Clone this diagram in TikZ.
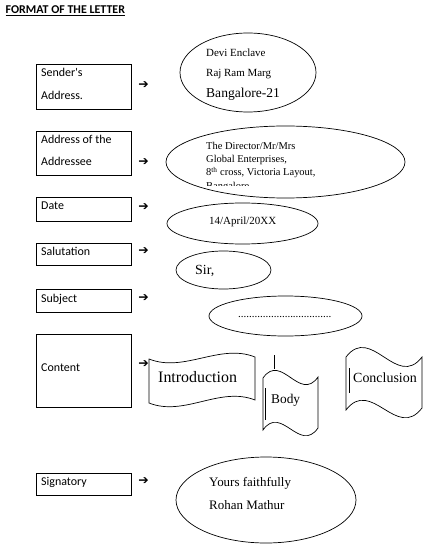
\documentclass[tikz,border=0pt]{standalone}
\usepackage{fontspec}
\setmainfont{Liberation Serif}
\newfontfamily\calib{Carlito}
\newfontfamily\djv{DejaVu Sans}
\usetikzlibrary{shapes.geometric}
\begin{document}
\begin{tikzpicture}[x=1bp,y=-1bp,
  lbox/.style={draw, line width=1bp, inner sep=0pt, outer sep=0pt, minimum width=95bp},
  ltext/.style={anchor=base west, inner sep=0pt, font=\calib\fontsize{12}{14}\selectfont},
  oval/.style={draw, ellipse, line width=0.7bp, inner sep=0pt},
  etext/.style={anchor=base west, inner sep=0pt},
  arrowglyph/.style={inner sep=0pt, font=\djv\bfseries\fontsize{12.5}{14}\selectfont},
  wave/.style={draw, line width=0.7bp},
  bar/.style={draw, line width=1bp}]
\useasboundingbox (0,0) rectangle (430,544);

% title
\node[anchor=base west, inner sep=0pt, font=\calib\bfseries\fontsize{12}{14}\selectfont] (title) at (5.5,13.5) {\underline{FORMAT OF THE LETTER}};

% left boxes
\node[lbox, minimum height=45bp] (sender) at (83.5,87.5) {};
\node[lbox, minimum height=44bp] (addr) at (83.5,154) {};
\node[lbox, minimum height=23bp] (date) at (83.5,209.5) {};
\node[lbox, minimum height=22bp] (salut) at (83.5,254) {};
\node[lbox, minimum height=23bp] (subj) at (83.5,300.5) {};
\node[lbox, minimum height=73bp] (content) at (83.5,370.5) {};
\node[lbox, minimum height=22bp] (sign) at (83.5,484) {};

\node[ltext] (t1) at (41,77) {Sender's};
\node[ltext] (t2) at (41,100) {Address.};
\node[ltext] (t3) at (41,144) {Address of the};
\node[ltext] (t4) at (41,166) {Addressee};
\node[ltext] (t5) at (41,210) {Date};
\node[ltext] (t6) at (41,255) {Salutation};
\node[ltext] (t7) at (41,302) {Subject};
\node[ltext] (t8) at (41,371) {Content};
\node[ltext] (t9) at (41,485) {Signatory};

% arrows
\node[arrowglyph] (a1) at (143.5,85.5) {➔};
\node[arrowglyph] (a2) at (143.5,162.5) {➔};
\node[arrowglyph] (a3) at (143.5,207.5) {➔};
\node[arrowglyph] (a4) at (143.5,251.5) {➔};
\node[arrowglyph] (a5) at (143.5,298.5) {➔};
\node[arrowglyph] (a6) at (143.5,364.5) {➔};
\node[arrowglyph] (a7) at (143.5,481.5) {➔};

% ellipses
\node[oval, minimum width=136bp, minimum height=79bp] (e1) at (248,72.5) {};
\node[etext, font=\fontsize{11}{13}\selectfont] (e1a) at (206,57) {Devi Enclave};
\node[etext, font=\fontsize{11}{13}\selectfont] (e1b) at (206,77) {Raj Ram Marg};
\node[etext, font=\fontsize{13.6}{15}\selectfont] (e1c) at (206,98) {Bangalore-21};

\node[oval, minimum width=239bp, minimum height=72bp] (e2) at (285.5,162) {};
\begin{scope}
\clip (190,135) rectangle (400,185.5);
\node[etext, font=\fontsize{10.5}{13}\selectfont] (e2a) at (206,150) {The Director/Mr/Mrs};
\node[etext, font=\fontsize{10.5}{13}\selectfont] (e2b) at (206,163) {Global Enterprises,};
\node[etext, font=\fontsize{10.5}{13}\selectfont] (e2c) at (206,176) {8\textsuperscript{th} cross, Victoria Layout,};
\node[etext, font=\fontsize{10.5}{13}\selectfont] (e2d) at (206,189.5) {Bangalore};
\end{scope}

\node[oval, minimum width=151bp, minimum height=41bp] (e3) at (242.5,223.5) {};
\node[etext, font=\fontsize{11}{13}\selectfont] (e3a) at (209,224) {14/April/20XX};

\node[oval, minimum width=95bp, minimum height=38bp] (e4) at (223.5,270) {};
\node[etext, font=\fontsize{14}{16}\selectfont] (e4a) at (195,274) {Sir,};

\node[oval, minimum width=153bp, minimum height=40bp] (e5) at (285.5,316) {};
\node[etext, font=\fontsize{11}{13}\selectfont] (e5a) at (238,317.5) {\makebox[94bp][s]{..................................}};

\node[oval, minimum width=180bp, minimum height=86bp] (e6) at (266,500) {};
\node[etext, font=\fontsize{13}{15}\selectfont] (e6a) at (209,486) {Yours faithfully};
\node[etext, font=\fontsize{13}{15}\selectfont] (e6b) at (209,509) {Rohan Mathur};

% wave shapes (content parts)
\draw[wave] (149,359) .. controls (184.3,373) and (219.7,343) .. (255,357)
  -- (255,400) .. controls (219.7,386) and (184.3,417) .. (149,403) -- cycle;
\node[etext, font=\fontsize{16}{18}\selectfont] (intro) at (158,382.5) {Introduction};

\draw[wave] (263,378) .. controls (281.3,352) and (299.7,403) .. (318,377)
  -- (318,428) .. controls (299.7,454) and (281.3,404) .. (263,430) -- cycle;
\node[etext, font=\fontsize{13.4}{15}\selectfont] (body) at (271,403.5) {Body};

\draw[wave] (346,357) .. controls (371.3,324) and (396.7,390) .. (422,357)
  -- (422,408) .. controls (396.7,441) and (371.3,377) .. (346,410) -- cycle;
\node[etext, font=\fontsize{14}{16}\selectfont] (concl) at (353,382) {Conclusion};

% cursor bars
\draw[bar] (274,355) -- (274,369);
\draw[bar] (265,388) -- (265,420);
\draw[bar] (349,368) -- (349,393);
\end{tikzpicture}
\end{document}
